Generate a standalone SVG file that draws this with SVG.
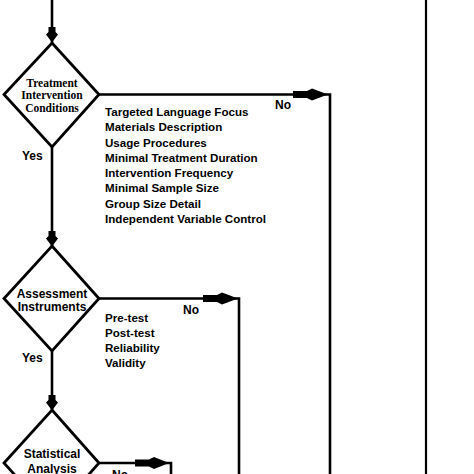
<svg xmlns="http://www.w3.org/2000/svg" width="474" height="474" viewBox="0 0 474 474">
<style>
.bg{fill:#fff}
.dia{fill:#fff;stroke:#000;stroke-width:2.8;stroke-linejoin:miter}
.ln{fill:none;stroke:#000;stroke-width:2.6}
.ln2{fill:none;stroke:#000;stroke-width:2.2}
.ah{fill:#000;stroke:none}
.serif{font-family:"Liberation Serif","Times New Roman",serif;font-weight:bold;font-size:11.5px;fill:#000;text-anchor:middle}
.sans{font-family:"Liberation Sans",Arial,sans-serif;font-weight:bold;font-size:12px;fill:#000;text-anchor:middle}
.lbl{font-family:"Liberation Sans",Arial,sans-serif;font-weight:bold;font-size:12px;fill:#000}
.lst{font-family:"Liberation Sans",Arial,sans-serif;font-weight:bold;font-size:11.6px;fill:#000}
</style>
<rect class="bg" x="0" y="0" width="474" height="474"/>
<g id="connectors">
  <line class="ln" x1="52" y1="0" x2="52" y2="43"/>
  <line class="ln" x1="52" y1="147" x2="52" y2="246"/>
  <line class="ln" x1="52" y1="351" x2="52" y2="410"/>
  <polyline class="ln" points="99,94.5 330,94.5 330,474"/>
  <polyline class="ln" points="99,298.5 239,298.5 239,474"/>
  <polyline class="ln" points="99,463 171,463 171,474"/>
  <line class="ln2" x1="426" y1="0" x2="426" y2="474"/>
  <polygon class="ah" points="48.5,27 55.5,27 55.5,32 58,34.5 52,42.5 46,34.5 48.5,32"/>
  <polygon class="ah" points="48.5,231 55.5,231 55.5,236 58,238.5 52,246.5 46,238.5 48.5,236"/>
  <polygon class="ah" points="48.5,395 55.5,395 55.5,400 58,402.5 52,410.5 46,402.5 48.5,400"/>
  <polygon class="ah" points="293,91 307,91 312,88.5 328,94.5 312,100.5 307,98 293,98"/>
  <polygon class="ah" points="203,295 217,295 222,292.5 238,298.5 222,304.5 217,302 203,302"/>
  <polygon class="ah" points="135,459.5 149,459.5 154,457 169,463 154,469 149,466.5 135,466.5"/>
  <text class="lbl" x="275" y="109">No</text>
  <text class="lbl" x="183" y="314">No</text>
  <text class="lbl" x="112" y="479">No</text>
  <text class="lbl" x="22" y="160">Yes</text>
  <text class="lbl" x="22" y="362">Yes</text>
</g>
<g id="node-treatment">
  <polygon class="dia" points="52,43 99,94.5 52,147 4,94.5"/>
  <text class="serif" x="52" y="87">Treatment</text>
  <text class="serif" x="52" y="99">Intervention</text>
  <text class="serif" x="52" y="112">Conditions</text>
</g>
<g id="list-treatment">
  <text class="lst" x="105" y="116">Targeted Language Focus</text>
  <text class="lst" x="105" y="131">Materials Description</text>
  <text class="lst" x="105" y="146.5">Usage Procedures</text>
  <text class="lst" x="105" y="162">Minimal Treatment Duration</text>
  <text class="lst" x="105" y="177">Intervention Frequency</text>
  <text class="lst" x="105" y="192">Minimal Sample Size</text>
  <text class="lst" x="105" y="207.5">Group Size Detail</text>
  <text class="lst" x="105" y="222.5">Independent Variable Control</text>
</g>
<g id="node-assessment">
  <polygon class="dia" points="52,246 99,298.5 52,351 4,298.5"/>
  <text class="sans" x="52" y="297.5">Assessment</text>
  <text class="sans" x="52" y="310.5">Instruments</text>
</g>
<g id="list-assessment">
  <text class="lst" x="105" y="322">Pre-test</text>
  <text class="lst" x="105" y="337">Post-test</text>
  <text class="lst" x="105" y="352">Reliability</text>
  <text class="lst" x="105" y="367">Validity</text>
</g>
<g id="node-statistical">
  <polygon class="dia" points="52,410 99,463 52,516 4,463"/>
  <text class="sans" x="52" y="457.5">Statistical</text>
  <text class="sans" x="52" y="472.5">Analysis</text>
</g>
</svg>
